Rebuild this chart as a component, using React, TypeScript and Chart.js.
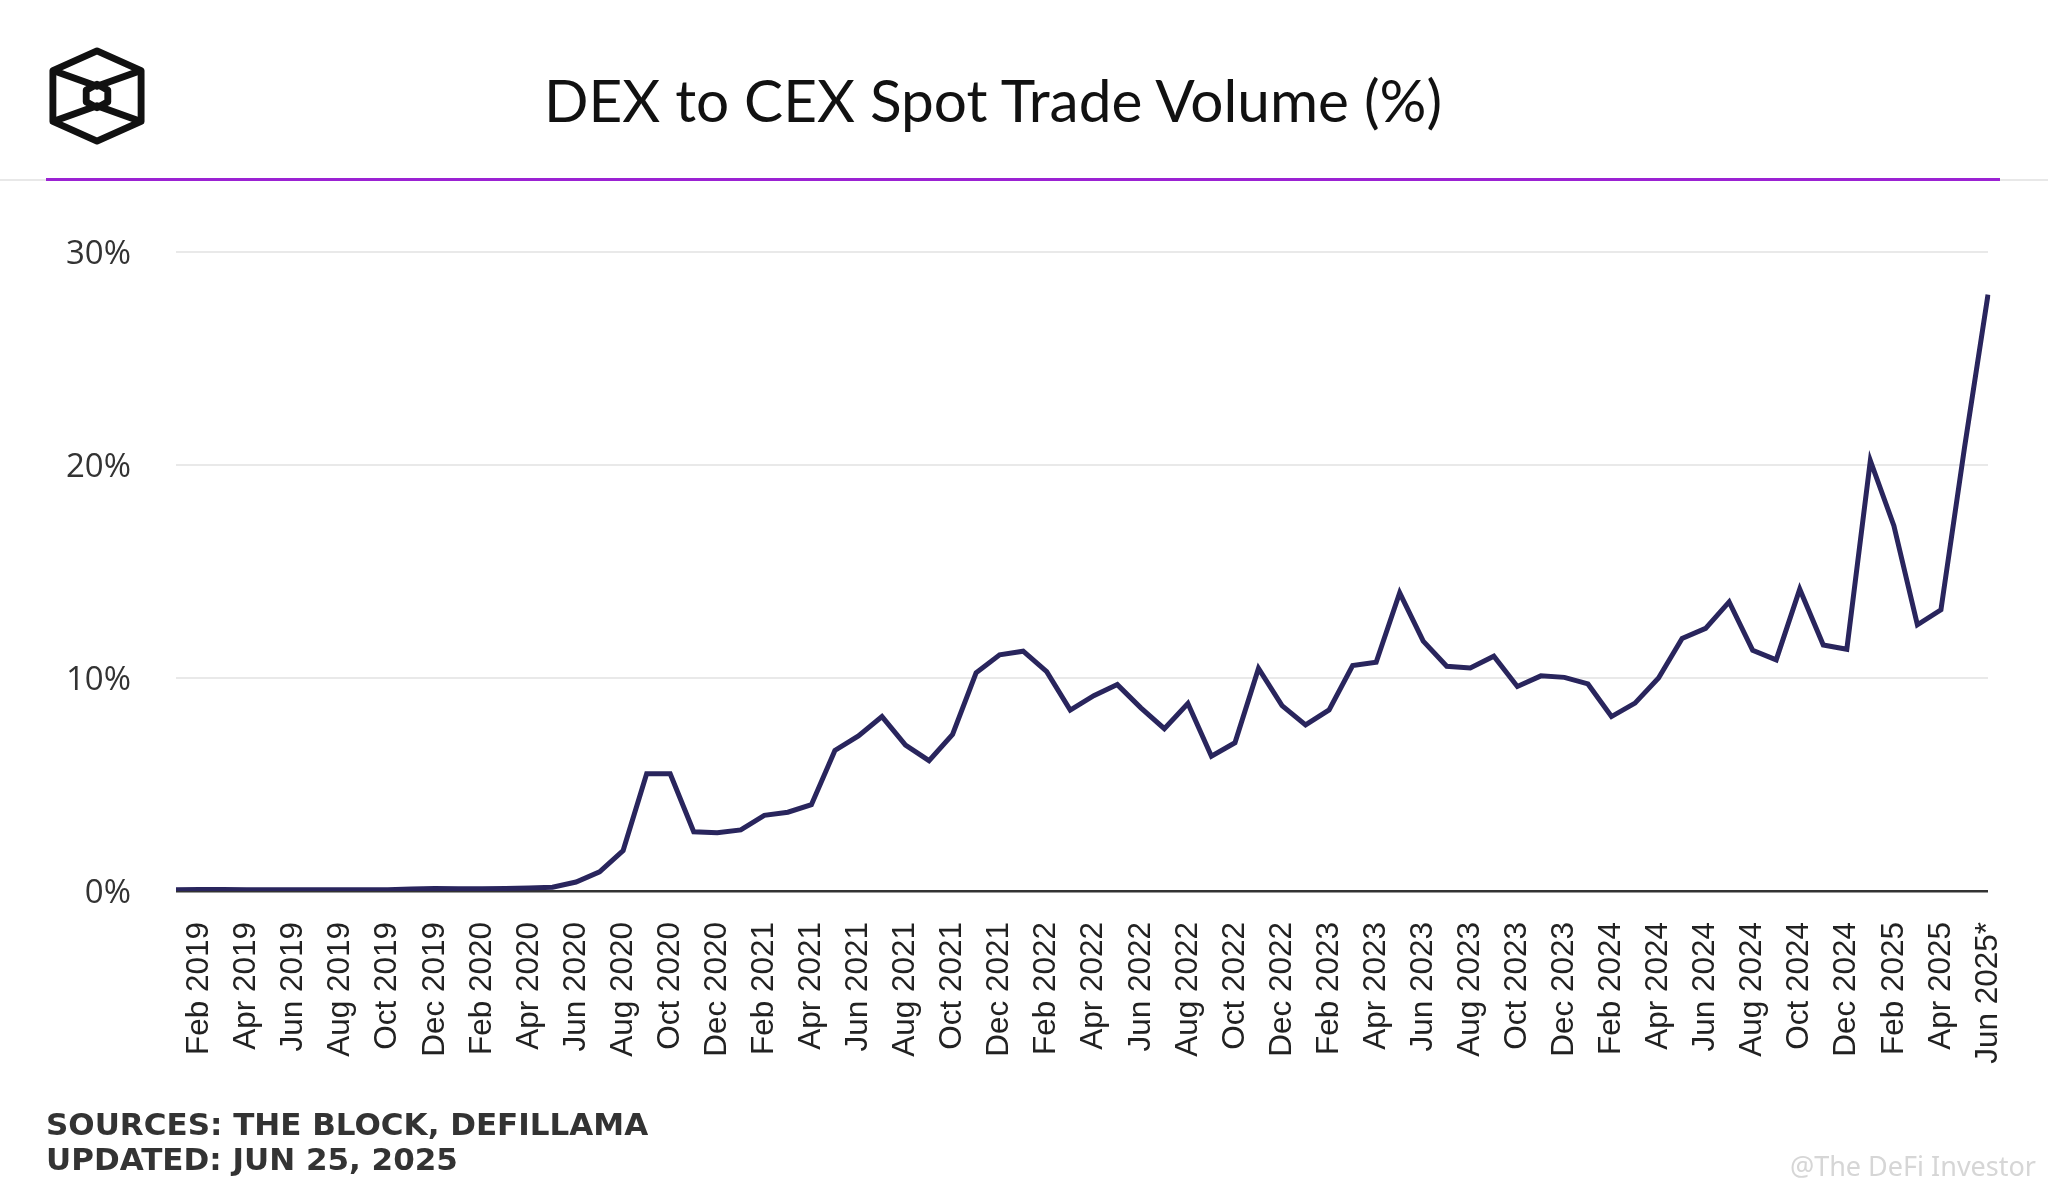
import React, { useEffect, useRef } from "react";
import { Chart, registerables } from "chart.js";

Chart.register(...registerables);

const MONTHS = ["Jan", "Feb", "Mar", "Apr", "May", "Jun", "Jul", "Aug", "Sep", "Oct", "Nov", "Dec"];
const YEARS = [2019, 2020, 2021, 2022, 2023, 2024, 2025];
const LAST_MONTH_2025 = 6;

const categories: string[] = [];
YEARS.forEach((y) => {
  MONTHS.forEach((m, i) => {
    if (y === 2025 && i >= LAST_MONTH_2025) return;
    categories.push(`${m} ${y}`);
  });
});
categories[categories.length - 1] = categories[categories.length - 1] + "*";

// DEX to CEX spot trade volume, % (monthly, Jan 2019 – Jun 2025)
const dexShare2019 = [0.06, 0.07, 0.07, 0.06, 0.06, 0.06, 0.06, 0.06, 0.06, 0.06, 0.09, 0.12];
const dexShare2020 = [0.1, 0.1, 0.12, 0.14, 0.18, 0.42, 0.9, 1.9, 5.5, 5.5, 2.78, 2.73];
const dexShare2021 = [2.87, 3.55, 3.7, 4.05, 6.6, 7.28, 8.19, 6.85, 6.12, 7.35, 10.24, 11.09];
const dexShare2022 = [11.26, 10.3, 8.49, 9.17, 9.69, 8.6, 7.62, 8.8, 6.33, 6.96, 10.45, 8.7];
const dexShare2023 = [7.8, 8.5, 10.58, 10.74, 14.0, 11.73, 10.55, 10.47, 11.02, 9.6, 10.1, 10.03];
const dexShare2024 = [9.72, 8.19, 8.82, 10.0, 11.86, 12.33, 13.57, 11.3, 10.85, 14.17, 11.55, 11.35];
const dexShare2025 = [20.2, 17.15, 12.5, 13.2, 20.8, 28.0];

const dexShare = [
  ...dexShare2019,
  ...dexShare2020,
  ...dexShare2021,
  ...dexShare2022,
  ...dexShare2023,
  ...dexShare2024,
  ...dexShare2025,
];

const yTicks = [0, 10, 20, 30];

const W = 2048;
const H = 1194;

function Logo() {
  return (
    <svg
      width={98}
      height={100}
      viewBox="0 0 100 100"
      style={{ position: "absolute", left: 48, top: 46 }}
    >
      <g fill="none" stroke="#111" strokeWidth={7} strokeLinejoin="round" strokeLinecap="round">
        <polygon points="50,4 95,24 95,76 50,96 5,76 5,24" />
        <polyline points="8,25 50,40 92,25" />
        <polyline points="8,75 50,60 92,75" />
        <polygon points="50,38 61,44 61,56 50,62 39,56 39,44" />
      </g>
    </svg>
  );
}

export default function App() {
  const canvasRef = useRef<HTMLCanvasElement | null>(null);

  useEffect(() => {
    document.body.style.margin = "0";
    const canvas = canvasRef.current;
    if (!canvas) return;
    const chart = new Chart(canvas, {
      type: "line",
      data: {
        labels: categories,
        datasets: [
          {
            data: dexShare,
            borderColor: "#29255d",
            borderWidth: 5,
            pointRadius: 0,
            pointHoverRadius: 0,
            tension: 0,
            fill: false,
            borderJoinStyle: "miter",
          },
        ],
      },
      options: {
        animation: false,
        responsive: false,
        devicePixelRatio: 1,
        layout: { padding: { left: 0, right: 60, top: 252, bottom: 103 } },
        plugins: {
          legend: { display: false },
          tooltip: { enabled: false },
          title: { display: false },
        },
        scales: {
          x: {
            type: "category",
            offset: false,
            border: { display: false },
            grid: { display: false, drawTicks: false },
            ticks: {
              autoSkip: false,
              maxRotation: 90,
              minRotation: 90,
              padding: 31,
              color: "#222",
              font: { family: "'Liberation Sans', Arial, sans-serif", size: 31.5 },
              callback: (_v: any, idx: number) => (idx % 2 === 1 ? categories[idx] : ""),
            },
            afterFit: (scale: any) => {
              scale.height = 200;
              scale.paddingLeft = 0;
              scale.paddingRight = 0;
            },
          },
          y: {
            min: yTicks[0],
            max: yTicks[yTicks.length - 1],
            border: { display: false },
            grid: {
              drawTicks: false,
              color: (ctx: any) => (ctx.tick && ctx.tick.value === 0 ? "#333333" : "#e9e9e9"),
              lineWidth: (ctx: any) => (ctx.tick && ctx.tick.value === 0 ? 2.5 : 2),
            },
            afterBuildTicks: (scale: any) => {
              scale.ticks = yTicks.map((v) => ({ value: v }));
            },
            ticks: {
              padding: 45,
              labelOffset: 3,
              color: "#333",
              font: { family: "'Open Sans', sans-serif", size: 33 },
              callback: (v: any) => `${v}%`,
            },
            afterFit: (scale: any) => {
              scale.width = 176;
            },
          },
        },
      },
    });
    return () => {
      chart.destroy();
    };
  }, []);

  return (
    <div
      style={{
        position: "absolute",
        left: 0,
        top: 0,
        width: W,
        height: H,
        background: "#fff",
        overflow: "hidden",
      }}
    >
      <canvas
        ref={canvasRef}
        width={W}
        height={H}
        style={{ position: "absolute", left: 0, top: 0, width: W, height: H }}
      />
      <Logo />
      <div
        style={{
          position: "absolute",
          left: 0,
          top: 69,
          width: 1986,
          textAlign: "center",
          fontFamily: "Lato, 'Open Sans', sans-serif",
          fontSize: 58.5,
          lineHeight: "60px",
          color: "#111",
          whiteSpace: "nowrap",
        }}
      >
        DEX to CEX Spot Trade Volume (%)
      </div>
      <div style={{ position: "absolute", left: 0, top: 179, width: W, height: 2, background: "#e8e8e8" }} />
      <div style={{ position: "absolute", left: 46, top: 178, width: 1954, height: 3, background: "#9b22d3" }} />
      <div
        style={{
          position: "absolute",
          left: 46,
          top: 1107,
          fontFamily: "'DejaVu Sans', Verdana, sans-serif",
          fontWeight: 700,
          fontSize: 31,
          lineHeight: "35px",
          color: "#333",
          whiteSpace: "nowrap",
        }}
      >
        <div>SOURCES: THE BLOCK, DEFILLAMA</div>
        <div>UPDATED: JUN 25, 2025</div>
      </div>
      <div
        style={{
          position: "absolute",
          right: 12,
          top: 1150,
          fontFamily: "'Noto Sans', sans-serif",
          fontSize: 27,
          lineHeight: "32px",
          color: "#d6d6d6",
          whiteSpace: "nowrap",
        }}
      >
        @The DeFi Investor
      </div>
    </div>
  );
}
